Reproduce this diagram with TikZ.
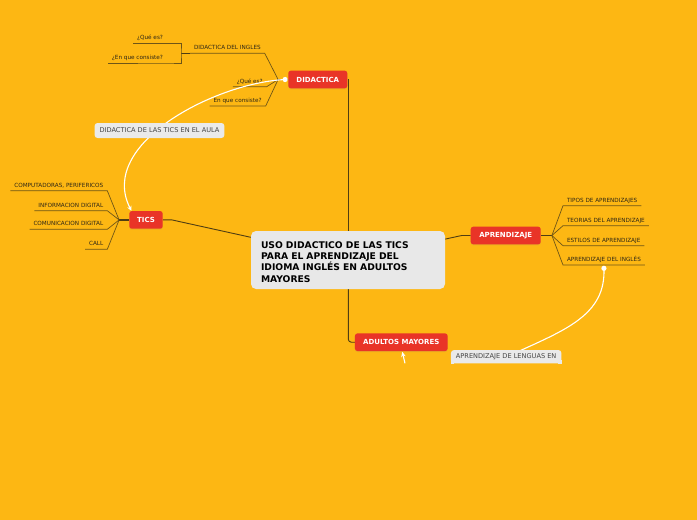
\documentclass[tikz,border=0pt]{standalone}
\usepackage{fontspec}
\setmainfont{DejaVu Sans}
\usetikzlibrary{arrows.meta,shadows}
\definecolor{bgc}{HTML}{FDB713}
\definecolor{redn}{HTML}{E93427}
\definecolor{cent}{HTML}{E8E8E8}
\definecolor{linec}{HTML}{4F3D12}
\definecolor{fanc}{HTML}{6E5517}
\definecolor{labc}{HTML}{2E2716}
\definecolor{relfill}{HTML}{EAEAEA}
\definecolor{reltext}{HTML}{444444}
\pgfdeclarelayer{back}
\pgfsetlayers{back,main}
\begin{document}
\begin{tikzpicture}[x=1pt,y=-1pt,
  topic/.style={fill=redn, rounded corners=2.5pt, text=white,
    font=\bfseries\fontsize{7}{8}\selectfont, inner sep=0pt, minimum height=17.6pt,
    drop shadow={opacity=0.15,shadow xshift=0pt,shadow yshift=-1pt}},
  blab/.style={font=\fontsize{5.7}{6.8}\selectfont, text=labc, inner xsep=4pt,
    inner ysep=3.4pt, text depth=0pt, outer sep=0pt},
  mainc/.style={draw=linec, line width=0.9pt},
  fan/.style={draw=fanc, line width=0.7pt},
  rel/.style={draw=white, line width=1.1pt},
  relarrow/.style={-{Stealth[length=5pt,width=4.5pt]}},
  rellab/.style={fill=relfill, rounded corners=3pt, text=reltext,
    font=\fontsize{6.6}{8}\selectfont, inner xsep=5pt, inner ysep=0pt}]
\useasboundingbox (0,0) rectangle (697,520);
\begin{pgfonlayer}{back}
\fill[bgc] (0,0) rectangle (697,520);
\end{pgfonlayer}

% central and main topics
\node[fill=cent, rounded corners=5pt, minimum width=194pt, minimum height=58pt,
  inner xsep=10pt, text width=174pt, align=left,
  font=\bfseries\fontsize{9.2}{11.3}\selectfont] (center) at (348,260)
  {\rule{0pt}{10.4pt}USO DIDACTICO DE LAS TICS\\PARA EL APRENDIZAJE DEL\\IDIOMA INGLÉS EN ADULTOS\\MAYORES};
\node[topic, minimum width=59pt] (did) at (317.8,79.5) {DIDACTICA};
\node[topic, minimum width=33.4pt] (tics) at (146,219.9) {TICS};
\node[topic, minimum width=70pt] (apr) at (505.7,235.5) {APRENDIZAJE};
\node[topic, minimum width=92.7pt] (adu) at (401.3,342.2) {ADULTOS MAYORES};

% DIDACTICA branches
\node[blab, anchor=south west] (dingles) at (190,53.3) {DIDACTICA DEL INGLES};
\node[blab, anchor=south east] (dq) at (266.7,86.7) {¿Qué es?};
\node[blab, anchor=south east] (dc) at (265.7,106) {En que consiste?};
\node[blab, anchor=south east] (q1) at (167,43.3) {¿Qué es?};
\node[blab, anchor=south east] (q2) at (167,63) {¿En que consiste?};

% TICS branches
\node[blab, anchor=south east] (t1) at (107.3,190.7) {COMPUTADORAS, PERIFERICOS};
\node[blab, anchor=south east] (t2) at (107.3,210.7) {INFORMACION DIGITAL};
\node[blab, anchor=south east] (t3) at (107.3,229.3) {COMUNICACION DIGITAL};
\node[blab, anchor=south east] (t4) at (107.3,249.3) {CALL};

% APRENDIZAJE branches
\node[blab, anchor=south west] (r1) at (563,205.7) {TIPOS DE APRENDIZAJES};
\node[blab, anchor=south west] (r2) at (563,225.7) {TEORIAS DEL APRENDIZAJE};
\node[blab, anchor=south west] (r3) at (563,245.7) {ESTILOS DE APRENDIZAJE};
\node[blab, anchor=south west] (r4) at (563,265) {APRENDIZAJE DEL INGLÉS};

\begin{pgfonlayer}{back}
  % main connectors
  \draw[mainc] (did.east) -- ++(0.8,0) coordinate (dv) -- (dv |- center.north);
  \draw[mainc, rounded corners=3pt] (dv |- center.south) |- (adu.west);
  \draw[mainc] (tics.east) -- ++(9,0) -- ([yshift=-6.5pt]center.north west);
  \draw[mainc] ([yshift=-8.3pt]center.north east) -- (461.7,235.5) -- (apr.west);
  % DIDACTICA fan
  \coordinate (fd) at ([xshift=-10pt]did.west);
  \draw[fan] (fd) -- (did.west);
  \draw[fan] (dingles.south west) -- (dingles.south east) -- (fd);
  \draw[fan] (dq.south west) -- (dq.south east) -- (fd);
  \draw[fan] (dc.south west) -- (dc.south east) -- (fd);
  % DIDACTICA DEL INGLES sub fan
  \coordinate (fi) at ([xshift=-9pt]dingles.south west);
  \draw[mainc] (fi) -- (dingles.south west);
  \draw[fan] (q1.south west) -- (q1.south east) -- (q1.south east -| fi) -- (fi)
    -- (q2.south east -| fi) -- (q2.south east) -- (q2.south west);
  % TICS fan
  \coordinate (ft) at ([xshift=-10pt]tics.west);
  \draw[mainc, line width=1.4pt] (ft) -- (tics.west);
  \foreach \n in {t1,t2,t3,t4}
    \draw[fan] (\n.south west) -- (\n.south east) -- (ft);
  % APRENDIZAJE fan
  \coordinate (fa) at ([xshift=11pt]apr.east);
  \draw[mainc, line width=1.4pt] (apr.east) -- (fa);
  \foreach \n in {r1,r2,r3,r4}
    \draw[fan] (\n.south east) -- (\n.south west) -- (fa);
\end{pgfonlayer}

% relations
\coordinate (d1) at ([xshift=-3pt]did.west);
\draw[rel, relarrow] (d1) .. controls (215,83) and (97,144) .. ([xshift=2.4pt]tics.north west);
\fill[white] (d1) circle (2.6pt);

\coordinate (d2) at ([yshift=-3.3pt]r4.south);
\draw[rel] (d2) .. controls (606,315) and (565,330) .. (515,353);
\fill[white] (d2) circle (2.6pt);
\coordinate (s2) at (405,363.3);
\draw[rel, relarrow] (s2) -- ([xshift=1pt,yshift=-0.7pt]adu.south);

\node[rellab, minimum height=15pt] (rl1) at (159.5,130.5) {DIDACTICA DE LAS TICS EN EL AULA};
\node[rellab, minimum height=13.3pt] (rl2) at (506.2,356.7) {APRENDIZAJE DE LENGUAS EN};
\fill[relfill] (rl2.south west) rectangle ([xshift=3.5pt,yshift=3.5pt]rl2.south west);
\fill[relfill] (rl2.south east) rectangle ([xshift=-3.5pt,yshift=3.5pt]rl2.south east);
\end{tikzpicture}
\end{document}
